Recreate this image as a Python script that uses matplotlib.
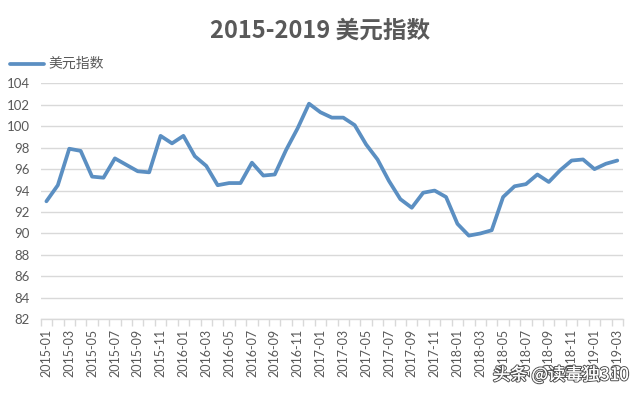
import matplotlib
matplotlib.use("Agg")
import matplotlib.pyplot as plt
import matplotlib.patheffects as pe
from matplotlib.ticker import FixedLocator

plt.rcParams['font.family'] = ['Lato', 'Noto Sans CJK SC', 'DejaVu Sans']

months = [f"{y}-{m:02d}" for y in range(2015, 2020) for m in range(1, 13)][:51]
values = [93.0, 94.5, 97.9, 97.7, 95.3, 95.2, 97.0, 96.4, 95.8, 95.7,
          99.1, 98.4, 99.1, 97.2, 96.3, 94.5, 94.7, 94.7, 96.6, 95.4,
          95.5, 97.8, 99.8, 102.1, 101.3, 100.8, 100.8, 100.1, 98.3, 96.9,
          94.9, 93.2, 92.4, 93.8, 94.0, 93.4, 90.9, 89.8, 90.0, 90.3,
          93.4, 94.4, 94.6, 95.5, 94.8, 95.9, 96.8, 96.9, 96.0, 96.5, 96.8]
yticks = list(range(82, 105, 2))
title = "2015-2019 美元指数"
series_name = "美元指数"
watermark = "头条 @读毒独310"

line_color = '#5b8fc2'
grid_color = '#d9d9d9'
text_color = '#595959'

fig = plt.figure(figsize=(6.4, 3.95), dpi=100)
ax = fig.add_axes([40.7/640, 1-319.3/395, (623-40.7)/640, (319.3-83.3)/395])

x = list(range(len(values)))
ax.plot(x, values, color=line_color, lw=2.7, solid_joinstyle='round', solid_capstyle='round', zorder=3)

ax.set_xlim(-0.5, len(values)-0.5)
ax.set_ylim(82, 104)
ax.set_yticks(yticks)
ax.yaxis.grid(True, color=grid_color, lw=1.0)
ax.set_axisbelow(True)
for s in ['left', 'right', 'top']:
    ax.spines[s].set_visible(False)
ax.spines['bottom'].set_color(grid_color)
ax.spines['bottom'].set_linewidth(1.0)

ax.tick_params(axis='y', length=0, pad=8, labelsize=9.5, labelcolor=text_color)
major = x[::2]
ax.set_xticks(major)
ax.set_xticklabels([months[i] for i in major], rotation=90, fontsize=9, color=text_color)
ax.xaxis.set_minor_locator(FixedLocator([i-0.5 for i in range(len(values)+1)]))
ax.tick_params(axis='x', which='major', length=0, pad=7)
ax.tick_params(axis='x', which='minor', length=5, color=grid_color, width=1.0, direction='out')

fig.text(0.5, 1-31/395, title, ha='center', va='center', fontsize=17, fontweight='bold',
         color=text_color, family=['Noto Sans CJK SC', 'DejaVu Sans'])

fig.lines.append(plt.Line2D([10/640, 44/640], [1-64/395, 1-64/395], transform=fig.transFigure,
                            color=line_color, lw=2.7, solid_capstyle='round'))
fig.text(48/640, 1-64/395, series_name, ha='left', va='center', fontsize=10, color=text_color,
         family=['Noto Sans CJK SC'])

fig.text(629/640, 1-375/395, watermark, ha='right', va='center', fontsize=12.5,
         color='white', family=['Noto Sans CJK SC', 'DejaVu Sans'], zorder=10,
         path_effects=[pe.withStroke(linewidth=1.6, foreground='#555555'), pe.Normal()])

fig.savefig('out.png', dpi=100)
